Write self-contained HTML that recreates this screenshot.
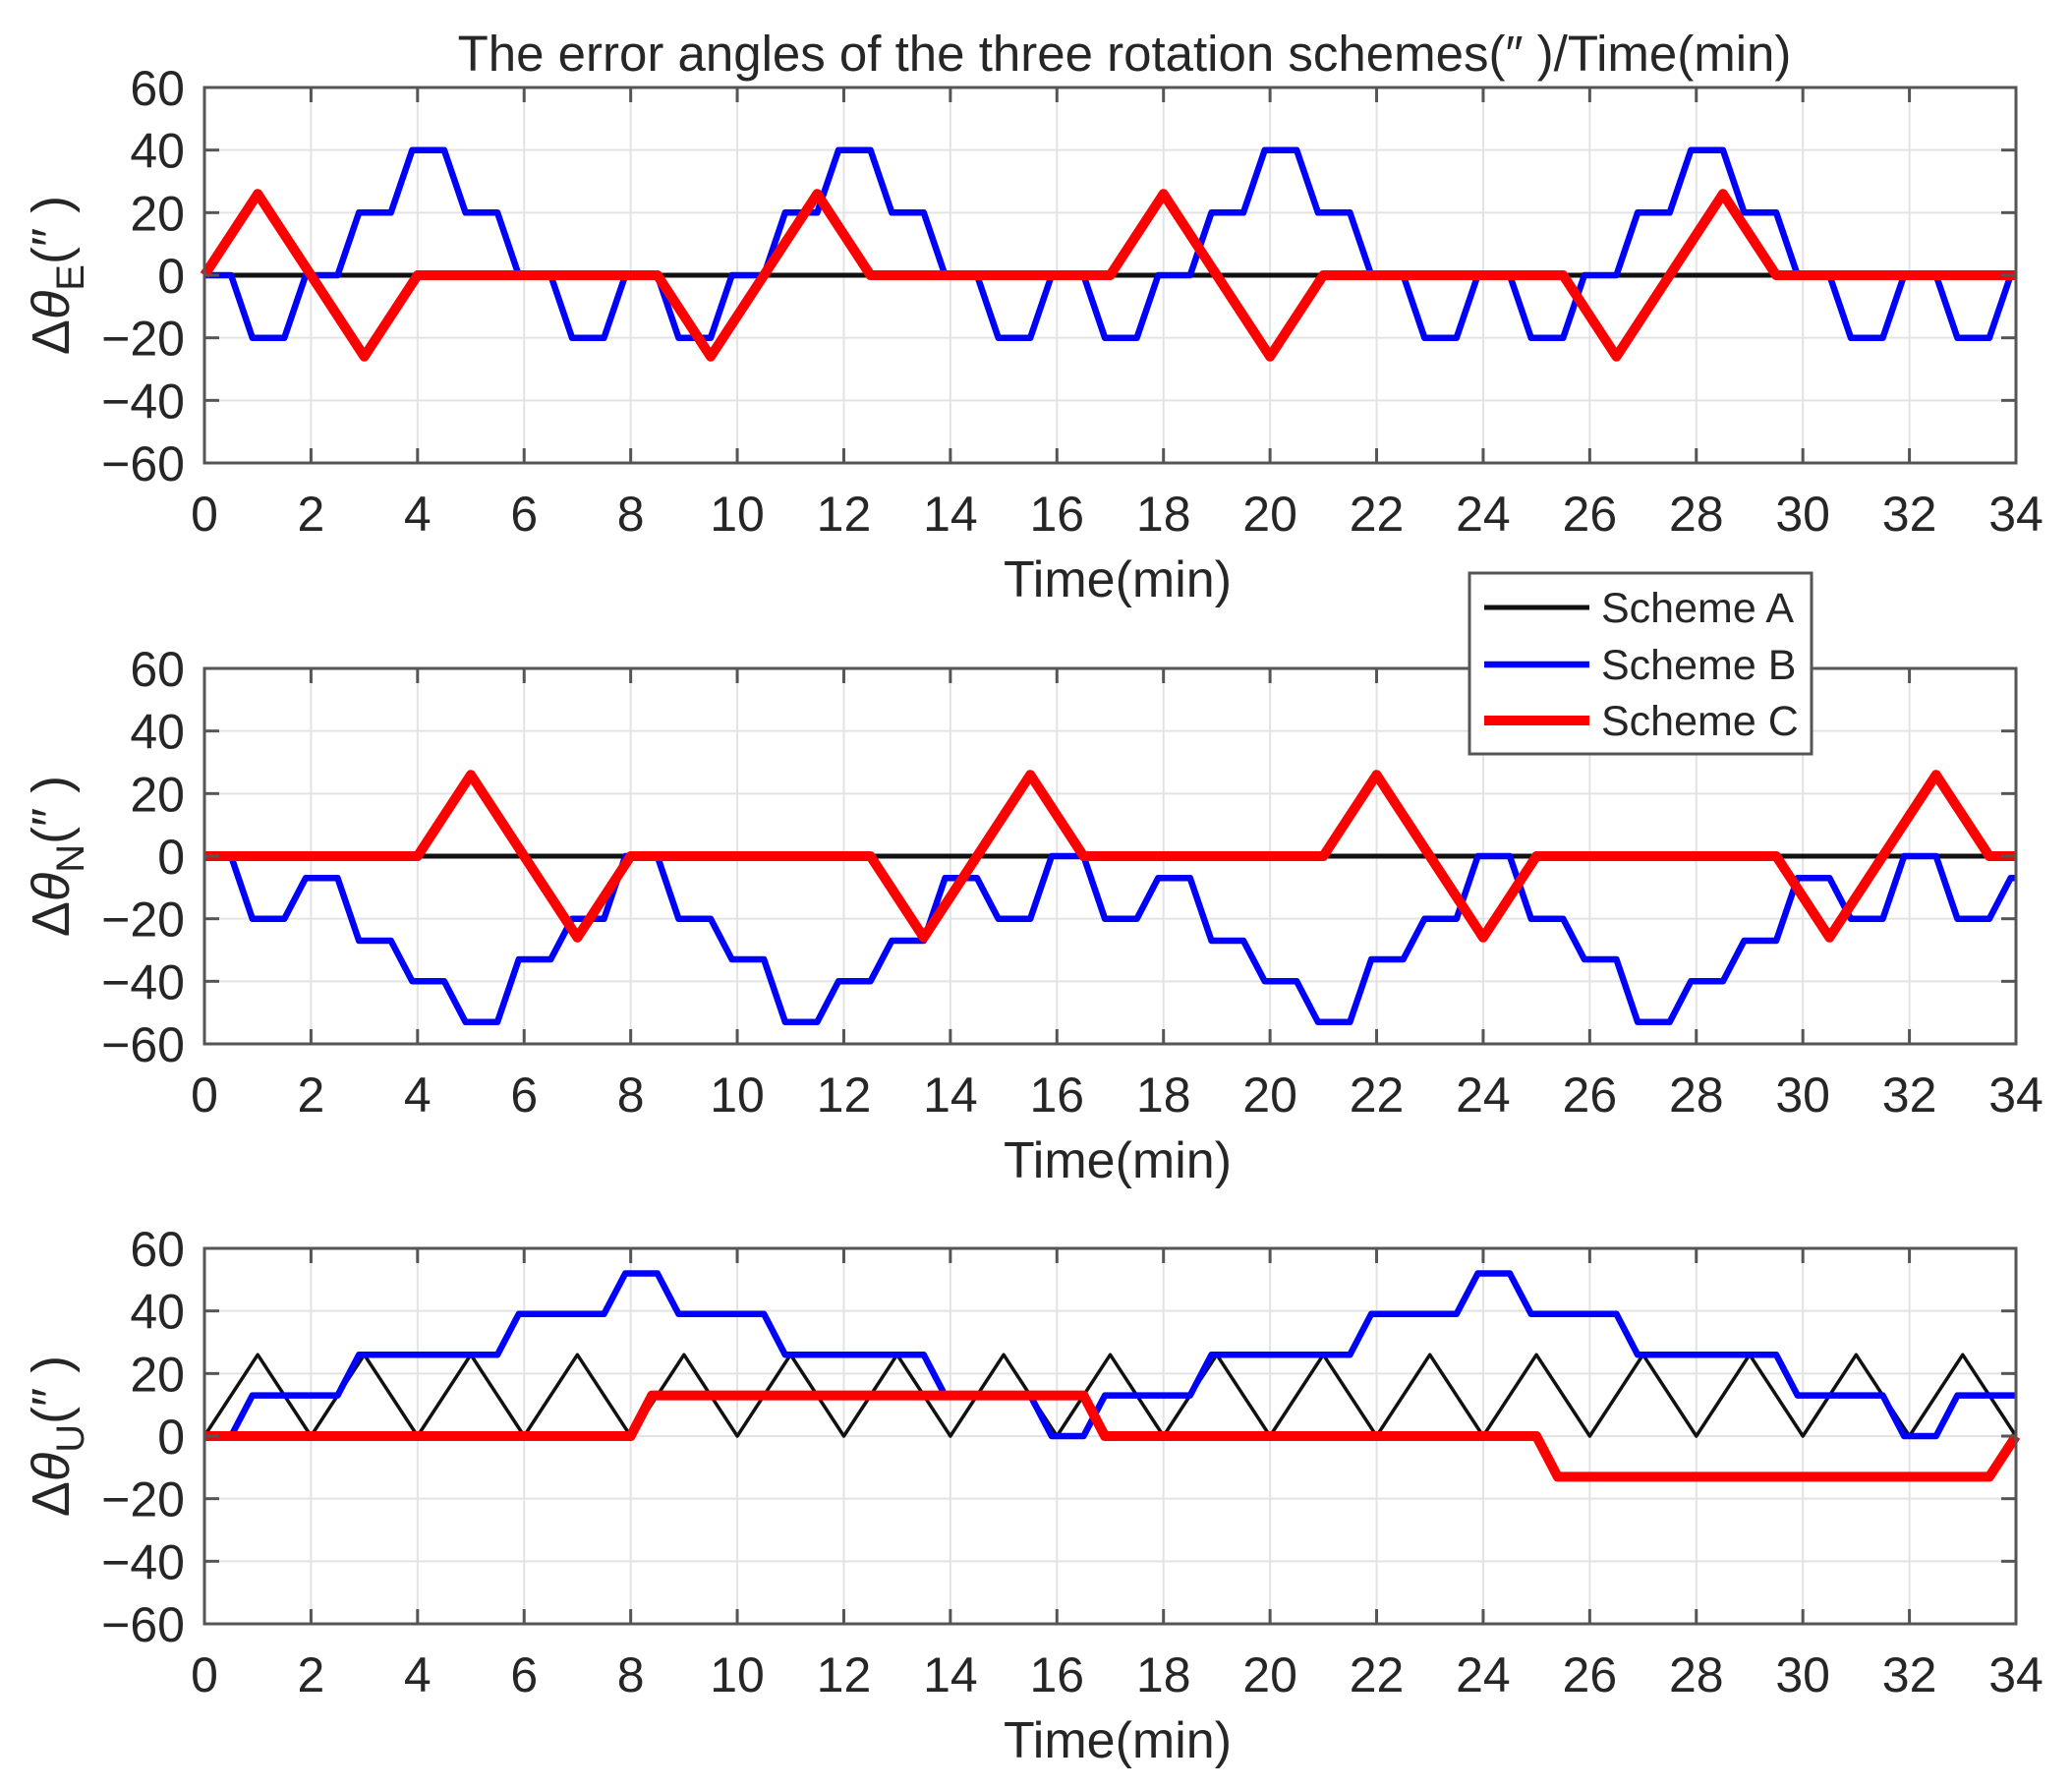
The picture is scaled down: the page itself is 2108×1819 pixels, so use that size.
<!DOCTYPE html>
<html><head><meta charset="utf-8"><style>
html,body{margin:0;padding:0;background:#fff;}
svg{display:block;}
text{font-family:"Liberation Sans",sans-serif;fill:#262626;}
</style></head><body>
<svg id="s" width="2108" height="1819" viewBox="0 0 2108 1819" xmlns="http://www.w3.org/2000/svg">
<rect width="2108" height="1819" fill="#fff"/>
<text x="1144" y="72" font-size="51" text-anchor="middle" fill="#1a1a1a">The error angles of the three rotation schemes(″  )/Time(min)</text>
<g id="g"></g>
</svg>
<script>
var NS="http://www.w3.org/2000/svg",G=document.getElementById('g');
function el(n,a,t){var e=document.createElementNS(NS,n);for(var k in a)e.setAttribute(k,a[k]);if(t!==undefined)e.textContent=t;G.appendChild(e);return e;}
var L=208,R=2051,H=382,W=R-L;
function X(t){return L+t/34*W;}
function stepSeries(levels){var p=[[0,0]],prev=0;for(var k=0;k<levels.length;k++){var a=k+0.5,b=Math.min(k+0.9,34);p.push([a,prev]);if(k+0.9>34){var f=(34-a)/0.4;p.push([34,prev+(levels[k]-prev)*f]);}else p.push([b,levels[k]]);prev=levels[k];}if(p[p.length-1][0]<34)p.push([34,prev]);return p;}
var E=[-20,0,20,40,20,0,-20,0],EL=[];for(var i=0;i<34;i++)EL.push(E[i%8]);
var NL=[-20,-7,-27,-40,-53,-33,-20,0,-20,-33,-53,-40,-27,-7,-20,0,-20,-7,-27,-40,-53,-33,-20,0,-20,-33,-53,-40,-27,-7,-20,0,-20,-7];
var UL=[13,13,26,26,26,39,39,52,39,39,26,26,26,13,13,0,13,13,26,26,26,39,39,52,39,39,26,26,26,13,13,0,13,13];
var tri=[];for(var i=0;i<=34;i++)tri.push([i,i%2?26:0]);
var panels=[
{T:89,sub:"E",A:[[0,0],[34,0]],aw:5,B:stepSeries(EL),C:[[0,0],[1,26],[3,-26],[4,0],[8.5,0],[9.5,-26],[11.5,26],[12.5,0],[17,0],[18,26],[20,-26],[21,0],[25.5,0],[26.5,-26],[28.5,26],[29.5,0],[34,0]]},
{T:680,sub:"N",A:[[0,0],[34,0]],aw:5,B:stepSeries(NL),C:[[0,0],[4,0],[5,26],[7,-26],[8,0],[12.5,0],[13.5,-26],[15.5,26],[16.5,0],[21,0],[22,26],[24,-26],[25,0],[29.5,0],[30.5,-26],[32.5,26],[33.5,0],[34,0]]},
{T:1270,sub:"U",A:tri,aw:3.5,B:stepSeries(UL),C:[[0,0],[8,0],[8.4,13],[16.5,13],[16.9,0],[25,0],[25.4,-13],[33.5,-13],[34,0]]}
];
panels.forEach(function(P){
 var T=P.T,B=T+H;function Y(v){return T+(60-v)/120*H;}
 el('rect',{x:L,y:T,width:W,height:H,fill:'#fff'});
 for(var t=0;t<=34;t+=2){var x=X(t);el('line',{x1:x,y1:T,x2:x,y2:B,stroke:'#e3e3e3','stroke-width':2});}
 for(var v=-60;v<=60;v+=20){var y=Y(v);el('line',{x1:L,y1:y,x2:R,y2:y,stroke:'#e3e3e3','stroke-width':2});}
 function pl(pts,c,w){el('polyline',{points:pts.map(function(p){return X(p[0]).toFixed(1)+','+Y(p[1]).toFixed(1);}).join(' '),fill:'none',stroke:c,'stroke-width':w,'stroke-linejoin':'round'});}
 pl(P.A,'#111',P.aw);pl(P.B,'#0000ff',6.5);pl(P.C,'#ff0000',10);
 el('rect',{x:L,y:T,width:W,height:H,fill:'none',stroke:'#555','stroke-width':3});
 for(var t=0;t<=34;t+=2){var x=X(t);el('line',{x1:x,y1:T,x2:x,y2:T+15,stroke:'#555','stroke-width':3});el('line',{x1:x,y1:B,x2:x,y2:B-15,stroke:'#555','stroke-width':3});
  el('text',{x:x,y:B+69,'font-size':50,'text-anchor':'middle'},String(t));}
 for(var v=-60;v<=60;v+=20){var y=Y(v);el('line',{x1:L,y1:y,x2:L+15,y2:y,stroke:'#555','stroke-width':3});el('line',{x1:R,y1:y,x2:R-15,y2:y,stroke:'#555','stroke-width':3});
  el('text',{x:188,y:y+18,'font-size':50,'text-anchor':'end'},v<0?'\u2212'+(-v):String(v));}
 el('text',{x:1137,y:B+136,'font-size':52,'text-anchor':'middle'},'Time(min)');
 var yl=el('text',{transform:'translate(70,'+(T+H/2)+') rotate(-90)','font-size':54,'text-anchor':'middle'});
 yl.innerHTML='Δ<tspan font-style="italic">θ</tspan><tspan font-size="40" dy="15">'+P.sub+'</tspan><tspan dy="-15">(″ )</tspan>';
});
el('rect',{x:1495,y:583,width:348,height:184,fill:'#fff',stroke:'#555','stroke-width':3});
[['Scheme A','#111',5,618],['Scheme B','#0000ff',6.5,676],['Scheme C','#ff0000',10,733]].forEach(function(r){
 el('line',{x1:1510,y1:r[3],x2:1617,y2:r[3],stroke:r[1],'stroke-width':r[2]});
 el('text',{x:1629,y:r[3]+15,'font-size':43},r[0]);});
</script>
</body></html>
